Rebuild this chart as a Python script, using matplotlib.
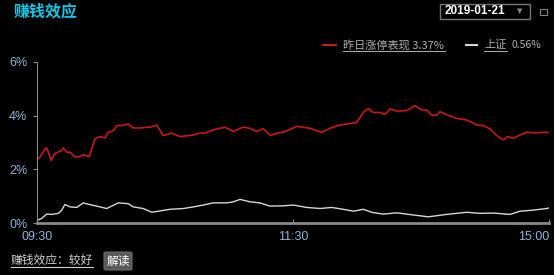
import matplotlib
matplotlib.use("Agg")
import matplotlib.pyplot as plt
from matplotlib.lines import Line2D
from matplotlib.patches import FancyBboxPatch, Rectangle

plt.rcParams['font.family'] = ['Noto Sans CJK SC', 'DejaVu Sans']

# 交易分钟 (09:30 起, 共 240 分钟) 与数值 (%)
red_t = [0, 1.4, 3.8, 4.5, 5.6, 6.6, 8.4, 9.8, 11.6, 12.3, 13.9, 15.5, 17.8, 20.2, 21.7, 24.5,
         27.2, 29.5, 31.9, 33.4, 35.8, 37.4, 39.7, 42.8, 45.1, 48.3, 51.4, 53.0, 56.1, 59.2,
         63.1, 67.0, 73.3, 76.4, 78.8, 82.6, 88.1, 92.0, 96.7, 99.8, 103.0, 106.1, 109.5,
         112.4, 115.5, 121.7, 128.0, 133.5, 137.3, 142.0, 149.9, 153.0, 155.3, 157.6, 160.8,
         163.1, 165.5, 168.6, 173.3, 177.2, 180.3, 182.7, 185.0, 187.4, 188.9, 192.0, 196.7,
         201.4, 203.8, 206.1, 209.2, 212.3, 215.5, 218.6, 220.6, 223.3, 226.4, 229.5, 234.2,
         237.3, 240]
red_v = [2.36, 2.46, 2.77, 2.80, 2.58, 2.33, 2.59, 2.64, 2.70, 2.80, 2.64, 2.64, 2.46, 2.48,
         2.54, 2.48, 3.14, 3.22, 3.17, 3.38, 3.44, 3.63, 3.63, 3.69, 3.54, 3.54, 3.57, 3.57,
         3.65, 3.26, 3.35, 3.22, 3.28, 3.35, 3.35, 3.47, 3.57, 3.41, 3.57, 3.53, 3.41, 3.51,
         3.26, 3.35, 3.38, 3.60, 3.53, 3.38, 3.53, 3.65, 3.75, 4.12, 4.27, 4.12, 4.12, 4.04,
         4.25, 4.17, 4.19, 4.37, 4.22, 4.21, 4.02, 4.02, 4.15, 4.04, 3.90, 3.84, 3.75, 3.65,
         3.63, 3.51, 3.26, 3.10, 3.22, 3.16, 3.28, 3.38, 3.36, 3.38, 3.37]

sh_t = [0, 2.2, 4.5, 6.9, 10.0, 11.6, 13.1, 15.5, 18.6, 21.7, 24.0, 28.0, 32.7, 38.1, 42.8,
        45.1, 49.8, 53.8, 57.7, 62.3, 68.6, 73.3, 78.0, 82.6, 88.9, 92.0, 95.2, 99.8, 104.5,
        109.2, 115.5, 120.1, 126.4, 132.7, 138.1, 143.6, 148.3, 153.0, 156.9, 162.3, 168.6,
        173.3, 183.4, 192.0, 201.4, 207.7, 213.9, 221.7, 226.4, 232.6, 238.9, 240]
sh_v = [0.09, 0.17, 0.33, 0.32, 0.36, 0.48, 0.69, 0.60, 0.58, 0.75, 0.70, 0.63, 0.54, 0.75,
        0.72, 0.60, 0.54, 0.40, 0.45, 0.51, 0.54, 0.60, 0.67, 0.75, 0.75, 0.79, 0.88, 0.79,
        0.75, 0.63, 0.64, 0.67, 0.58, 0.54, 0.58, 0.51, 0.44, 0.51, 0.40, 0.33, 0.38, 0.33,
        0.23, 0.32, 0.40, 0.36, 0.37, 0.32, 0.44, 0.48, 0.54, 0.56]

x_ticks = [0, 120, 240]
x_labels = ['09:30', '11:30', '15:00']
y_ticks = [0, 2, 4, 6]
y_labels = ['0%', '2%', '4%', '6%']

red_name, red_last = '昨日涨停表现', '3.37%'
sh_name, sh_last = '上证', '0.56%'

W, H = 554, 275
fig = plt.figure(figsize=(W / 100, H / 100), dpi=100, facecolor='black')
ax = fig.add_axes([37 / W, 52 / H, 512 / W, 161 / H], facecolor='black')

ax.plot(red_t, red_v, color='#c41a1a', lw=1.2)
ax.plot(sh_t, sh_v, color='#d6d6d6', lw=1.0)

ax.set_xlim(0, 240)
ax.set_ylim(0, 6)
ax.set_xticks(x_ticks)
ax.set_xticklabels(x_labels, family='Liberation Sans')
ax.set_yticks(y_ticks)
ax.set_yticklabels(y_labels, family='Liberation Sans')
ax.get_xticklabels()[-1].set_ha('right')
ax.tick_params(axis='x', direction='in', length=3, color='#888888', labelcolor='#8fb4d8',
               labelsize=9, pad=6)
ax.tick_params(axis='y', direction='out', length=3, color='#888888', labelcolor='#8fb4d8',
               labelsize=9, pad=4)
for s in ['top', 'right']:
    ax.spines[s].set_visible(False)
ax.spines['left'].set_color('#888888')
ax.spines['bottom'].set_color('#8a8a8a')
ax.spines['bottom'].set_linewidth(2)

# 标题
fig.text(14 / W, 1 - 11 / H, '赚钱效应', color='#16c4e4', fontsize=11.5, fontweight='bold',
         va='center', ha='left')

# 日期选择框
fig.patches.append(Rectangle((440 / W, 1 - 19 / H), 90 / W, 15 / H, transform=fig.transFigure,
                             facecolor='black', edgecolor='#777777', lw=1))
fig.text(445 / W, 1 - 11.5 / H, '2019-01-21', color='white', fontsize=8.5, fontweight='bold',
         va='center', ha='left', family='Liberation Sans')
fig.text(520 / W, 1 - 11.5 / H, '▼', color='#888888', fontsize=5, va='center', ha='center',
         family='DejaVu Sans')
fig.patches.append(Rectangle((540 / W, 1 - 15 / H), 7 / W, 6 / H, transform=fig.transFigure,
                             facecolor='none', edgecolor='#888888', lw=0.8))

# 图例
fig.lines.append(Line2D([323 / W, 336 / W], [1 - 45 / H] * 2, color='#c41a1a', lw=1.5,
                        transform=fig.transFigure))
fig.text(343 / W, 1 - 45 / H, red_name + ' ' + red_last, color='#b0b0b0', fontsize=8,
         va='center', ha='left')
fig.lines.append(Line2D([343 / W, 445 / W], [1 - 51 / H] * 2, color='#b0b0b0', lw=0.7,
                        transform=fig.transFigure))
fig.lines.append(Line2D([466 / W, 477 / W], [1 - 45 / H] * 2, color='#d6d6d6', lw=1.5,
                        transform=fig.transFigure))
fig.text(484 / W, 1 - 45 / H, sh_name, color='#b0b0b0', fontsize=8, va='center', ha='left')
fig.lines.append(Line2D([484 / W, 507 / W], [1 - 51 / H] * 2, color='#b0b0b0', lw=0.7,
                        transform=fig.transFigure))
fig.text(512 / W, 1 - 45 / H, sh_last, color='#b0b0b0', fontsize=7.5, va='center', ha='left')

# 底部文字
fig.text(11 / W, 1 - 260 / H, '赚钱效应：较好', color='#d0d0d0', fontsize=8.5, va='center',
         ha='left')
fig.lines.append(Line2D([11 / W, 93 / W], [1 - 267 / H] * 2, color='#d0d0d0', lw=0.8,
                        transform=fig.transFigure))
fig.patches.append(FancyBboxPatch((104 / W, 1 - 270 / H), 28 / W, 18 / H,
                                  boxstyle='round,pad=0,rounding_size=0.005',
                                  transform=fig.transFigure, facecolor='#5a5a5a',
                                  edgecolor='#6a6a6a', lw=0.8))
fig.text(118 / W, 1 - 261 / H, '解读', color='white', fontsize=8.5, va='center', ha='center')

fig.savefig('out.png', dpi=100, facecolor='black')
